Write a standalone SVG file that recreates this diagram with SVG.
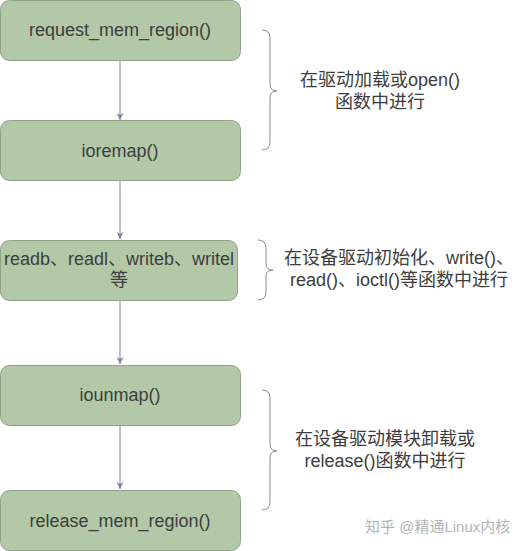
<svg xmlns="http://www.w3.org/2000/svg" width="531" height="551" viewBox="0 0 531 551">
<style>
.box{fill:#b2c8a7;stroke:#8fa487;stroke-width:1}
.t{font-family:"Liberation Sans","Noto Sans CJK SC",sans-serif;font-size:18px;fill:#3d3d3d;text-anchor:middle}
.c{stroke:#7b8497;stroke-width:1;fill:none}
.br{stroke:#8a8a8a;stroke-width:1;fill:none}
.wm{font-family:"Liberation Sans","Noto Sans CJK SC",sans-serif;font-size:15px;fill:#b4b4b4}
</style>
<defs>
<marker id="ah" viewBox="0 0 10 10" refX="10" refY="5" markerWidth="7" markerHeight="7" markerUnits="userSpaceOnUse" orient="auto">
<path d="M0,0 L10,5 L0,10 L3,5 Z" fill="#7b8497"/>
</marker>
</defs>
<rect width="531" height="551" fill="#fff"/>
<g id="connectors">
<line class="c" x1="120" y1="61" x2="120" y2="120" marker-end="url(#ah)"/>
<line class="c" x1="120" y1="181" x2="120" y2="239" marker-end="url(#ah)"/>
<line class="c" x1="120" y1="301" x2="120" y2="364" marker-end="url(#ah)"/>
<line class="c" x1="120" y1="426" x2="120" y2="489" marker-end="url(#ah)"/>
</g>
<g id="n1"><rect class="box" x="0.5" y="0.5" width="240" height="60" rx="9"/><text class="t" x="120" y="36">request_mem_region()</text></g>
<g id="n2"><rect class="box" x="0.5" y="120.5" width="240" height="60" rx="9"/><text class="t" x="120" y="157">ioremap()</text></g>
<g id="n3"><rect class="box" x="0.5" y="240.5" width="237" height="60" rx="9"/><text class="t" x="119" y="265">readb、readl、writeb、writel</text><text class="t" x="119" y="286">等</text></g>
<g id="n4"><rect class="box" x="0.5" y="365.5" width="240" height="60" rx="9"/><text class="t" x="120" y="401">iounmap()</text></g>
<g id="n5"><rect class="box" x="0.5" y="490.5" width="240" height="60" rx="9"/><text class="t" x="120" y="527">release_mem_region()</text></g>
<g id="brace1"><path class="br" d="M262,30 Q270,30 270,38 L270,84 Q270,91 277,91 Q270,91 270,98 L270,142 Q270,150 262,150"/><text class="t" x="380" y="86">在驱动加载或open()</text><text class="t" x="380" y="108">函数中进行</text></g>
<g id="brace2"><path class="br" d="M258,240 Q266,240 266,248 L266,264 Q266,270 273,270 Q266,270 266,276 L266,292 Q266,300 258,300"/><text class="t" x="399" y="264">在设备驱动初始化、write()、</text><text class="t" x="399" y="286">read()、ioctl()等函数中进行</text></g>
<g id="brace3"><path class="br" d="M262,390 Q270,390 270,398 L270,444 Q270,451 277,451 Q270,451 270,458 L270,502 Q270,510 262,510"/><text class="t" x="385" y="445">在设备驱动模块卸载或</text><text class="t" x="385" y="467">release()函数中进行</text></g>
<text class="wm" x="365" y="532">知乎 @精通Linux内核</text>
</svg>
